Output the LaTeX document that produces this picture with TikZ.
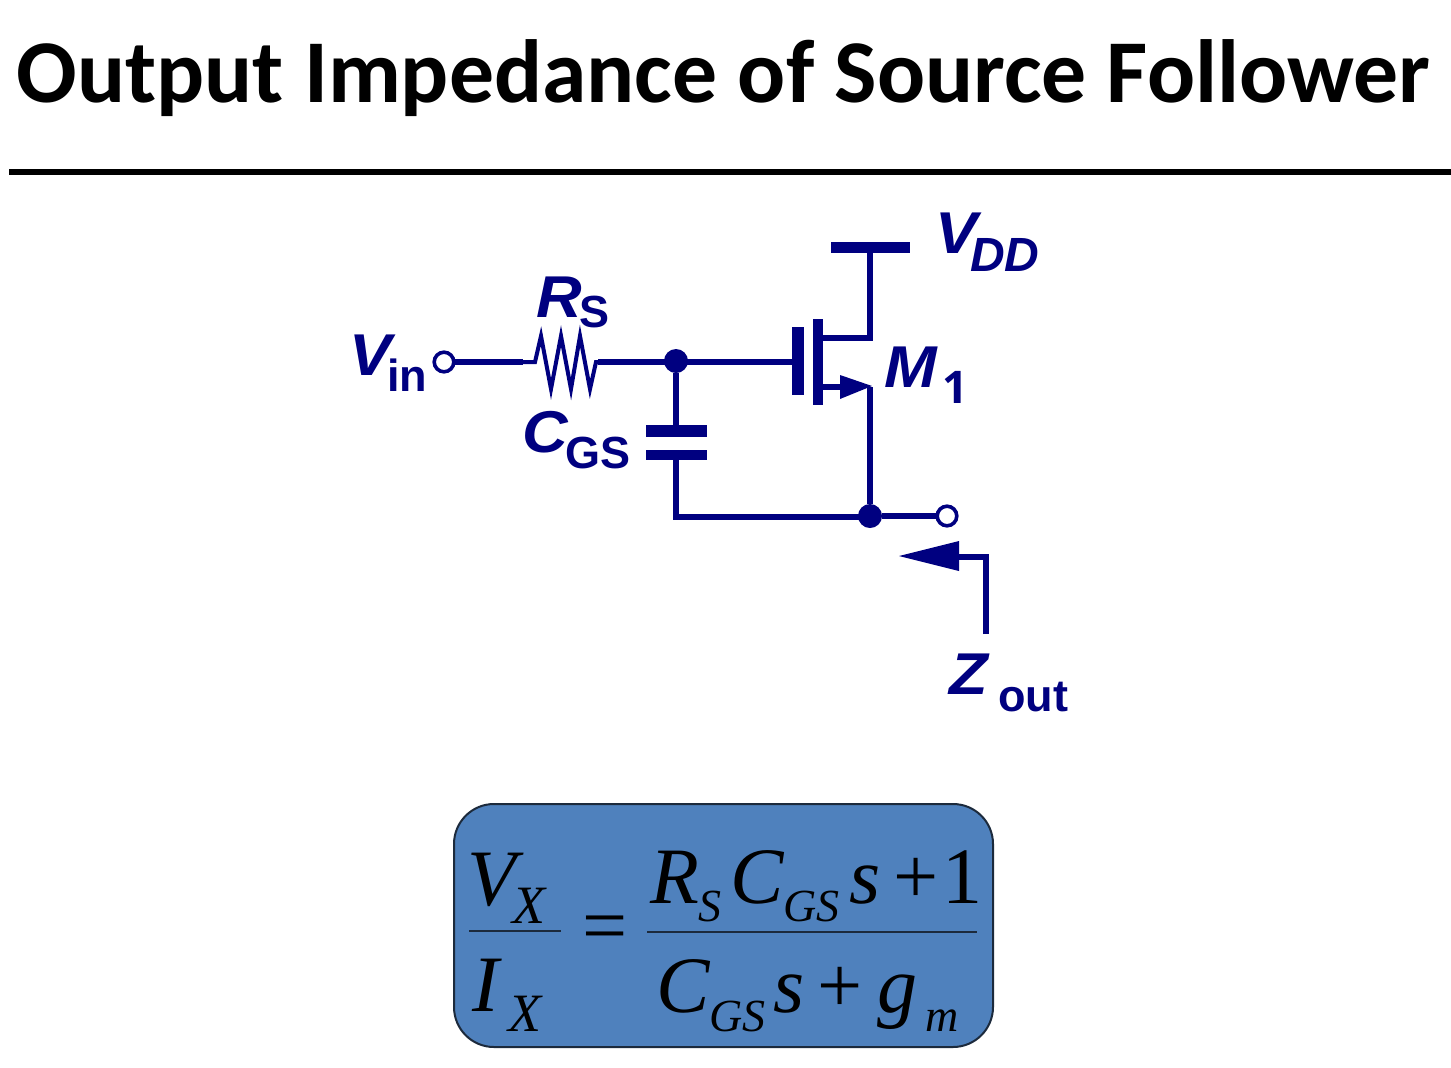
\documentclass[tikz,border=0pt]{standalone}
\usepackage{fontspec}
\setmainfont{Liberation Sans}
\newfontfamily\titlefont{Carlito}
\newfontfamily\mathserif{Liberation Serif}
\newfontfamily\digitfont{Open Sans}
\newfontfamily\widelabel[FakeStretch=1.07]{Liberation Sans}
\usetikzlibrary{arrows.meta}
\definecolor{cktblue}{HTML}{000080}
\definecolor{boxblue}{HTML}{4F81BD}
\definecolor{boxedge}{HTML}{1C2A3C}
\tikzset{
  lbl/.style={inner sep=0pt,outer sep=0pt,anchor=base west,text=cktblue},
  bigi/.style={lbl,font=\widelabel\fontsize{29.5}{30}\selectfont\bfseries\itshape},
  smalli/.style={lbl,font=\fontsize{24}{24}\selectfont\bfseries\itshape},
  smallr/.style={lbl,font=\fontsize{22.5}{22.5}\selectfont\bfseries},
  mainm/.style={inner sep=0pt,outer sep=0pt,anchor=base west,text=black,font=\mathserif\fontsize{40}{40}\selectfont\itshape},
  subm/.style={inner sep=0pt,outer sep=0pt,anchor=base west,text=black,font=\mathserif\fontsize{23}{23}\selectfont\itshape},
  subx/.style={subm,font=\mathserif\fontsize{27}{27}\selectfont\itshape},
  mainr/.style={inner sep=0pt,outer sep=0pt,anchor=base west,text=black,font=\mathserif\fontsize{40}{40}\selectfont},
  wire/.style={draw=cktblue,line width=3pt},
  thin wire/.style={draw=cktblue,line width=2pt,line join=miter},
  plate/.style={draw=none,fill=cktblue,inner sep=0pt,outer sep=0pt,rectangle},
  term/.style={circle,draw=cktblue,fill=white,line width=1.8pt,minimum size=9.8pt,inner sep=0pt,outer sep=0pt},
  junction/.style={circle,fill=cktblue,minimum size=12pt,inner sep=0pt,outer sep=0pt},
  frac/.style={draw=boxedge,line width=1.2pt}
}
\begin{document}
\begin{tikzpicture}[x=0.5pt,y=-0.5pt]
\useasboundingbox (0,0) rectangle (1451,1067);
\fill[white] (0,0) rectangle (1451,1067);
% title
\node[inner sep=0pt,anchor=base west,text=black,font=\titlefont\fontsize{44.85}{45}\selectfont\bfseries] (title) at (16,102) {Output Impedance of Source Follower};
\coordinate (ruleL) at (9,172);
\coordinate (ruleR) at (1451,172);
\draw[black,line width=3pt] (ruleL) -- (ruleR);
% terminals and junctions
\node[term] (vin) at (444,362) {};
\node[junction] (ga) at (676,361) {};
\node[junction] (so) at (870,516) {};
\node[term] (vout) at (947,516) {};
% resistor
\coordinate (r0) at (523,362);
\coordinate (r1) at (598,362);
\draw[wire] (vin) -- (r0);
\draw[thin wire] (r0) -- (535,362) -- (541,336) -- (551,389) -- (561,336) -- (571,389) -- (580,336) -- (590,389) -- (596,362) -- (r1);
% gate wire
\node[plate,minimum width=6pt,minimum height=34pt] (gplate) at (798,361) {};
\node[plate,minimum width=5pt,minimum height=43pt] (chan) at (818,362) {};
\draw[wire] (r1) -- (r1 -| ga);
\draw[wire] (r1 -| ga) -- (gplate.west |- r1);
% capacitor
\node[plate,minimum width=30.5pt,minimum height=6pt] (cap1) at (676,431) {};
\node[plate,minimum width=30.5pt,minimum height=5pt] (cap2) at (676,455) {};
\coordinate (cbend) at (676,517);
\draw[wire] (ga) -- (cap1);
\draw[wire,line join=miter] (cap2) -- (cbend) -- (cbend -| so);
\draw[wire] (so) -- (vout);
% MOSFET drain and source
\node[plate,minimum width=39.5pt,minimum height=5.5pt] (vdd) at (870,247) {};
\coordinate (dr) at (870,338);
\coordinate (sr) at (870,387);
\coordinate (ah) at (840,387);
\draw[wire,line join=miter] (vdd) -- (dr) -- (chan.east |- dr);
\draw[wire] (chan.east |- sr) -- (ah);
\fill[cktblue] (840,375) -- (872,386) -- (840,399) -- cycle;
\draw[wire,line join=miter] (so) -- (sr);
% Zout arrow
\coordinate (zend) at (986,634);
\coordinate (zbend) at (986,557);
\coordinate (zarr) at (959,557);
\draw[wire,line join=miter] (zend) -- (zbend) -- (zarr);
\fill[cktblue] (959,541) -- (899,556) -- (959,571) -- cycle;
% circuit labels
\node[bigi] (lv) at (349,375) {V};
\node[smallr] (lvs) at (387,391) {in};
\node[bigi] (lr) at (536,317) {R};
\node[smallr] (lrs) at (579,327) {S};
\node[bigi] (lc) at (522,452) {C};
\node[smallr] (lcs) at (565,468) {GS};
\node[bigi] (ldd) at (935,253) {V};
\node[smalli] (ldds) at (970,271) {DD};
\node[bigi] (lm) at (884,387) {M};
\node[lbl,font=\digitfont\fontsize{22.5}{22.5}\selectfont\bfseries] (lms) at (942,403) {1};
\node[bigi] (lz) at (949,694) {Z};
\node[smallr] (lzs) at (998,711) {out};
% equation box
\draw[draw=boxedge,fill=boxblue,line width=1pt,rounded corners=20pt] (454,804) rectangle (993,1047);
\node[mainm] (e1) at (467,905) {V};
\node[subx] (e2) at (512,923) {X};
\draw[frac] (469,931) -- (561,931);
\node[mainm] (e3) at (472,1011) {I};
\node[subx] (e4) at (508,1031) {X};
\node[mainr] (e5) at (582,952) {=};
\node[mainm] (e6) at (650,903) {R};
\node[subm] (e7) at (698,921) {S};
\node[mainm] (e8) at (730,903) {C};
\node[subm] (e9) at (783,921) {GS};
\node[mainm] (e10) at (849,903) {s};
\node[mainr] (e11) at (893,903) {+};
\node[mainr] (e12) at (942,903) {1};
\draw[frac] (647,932) -- (977,932);
\node[mainm] (e13) at (656,1012) {C};
\node[subm] (e14) at (709,1031) {GS};
\node[mainm] (e15) at (773,1012) {s};
\node[mainr] (e16) at (817,1012) {+};
\node[mainm] (e17) at (877,1012) {g};
\node[subm] (e18) at (925,1031) {m};
\end{tikzpicture}
\end{document}
